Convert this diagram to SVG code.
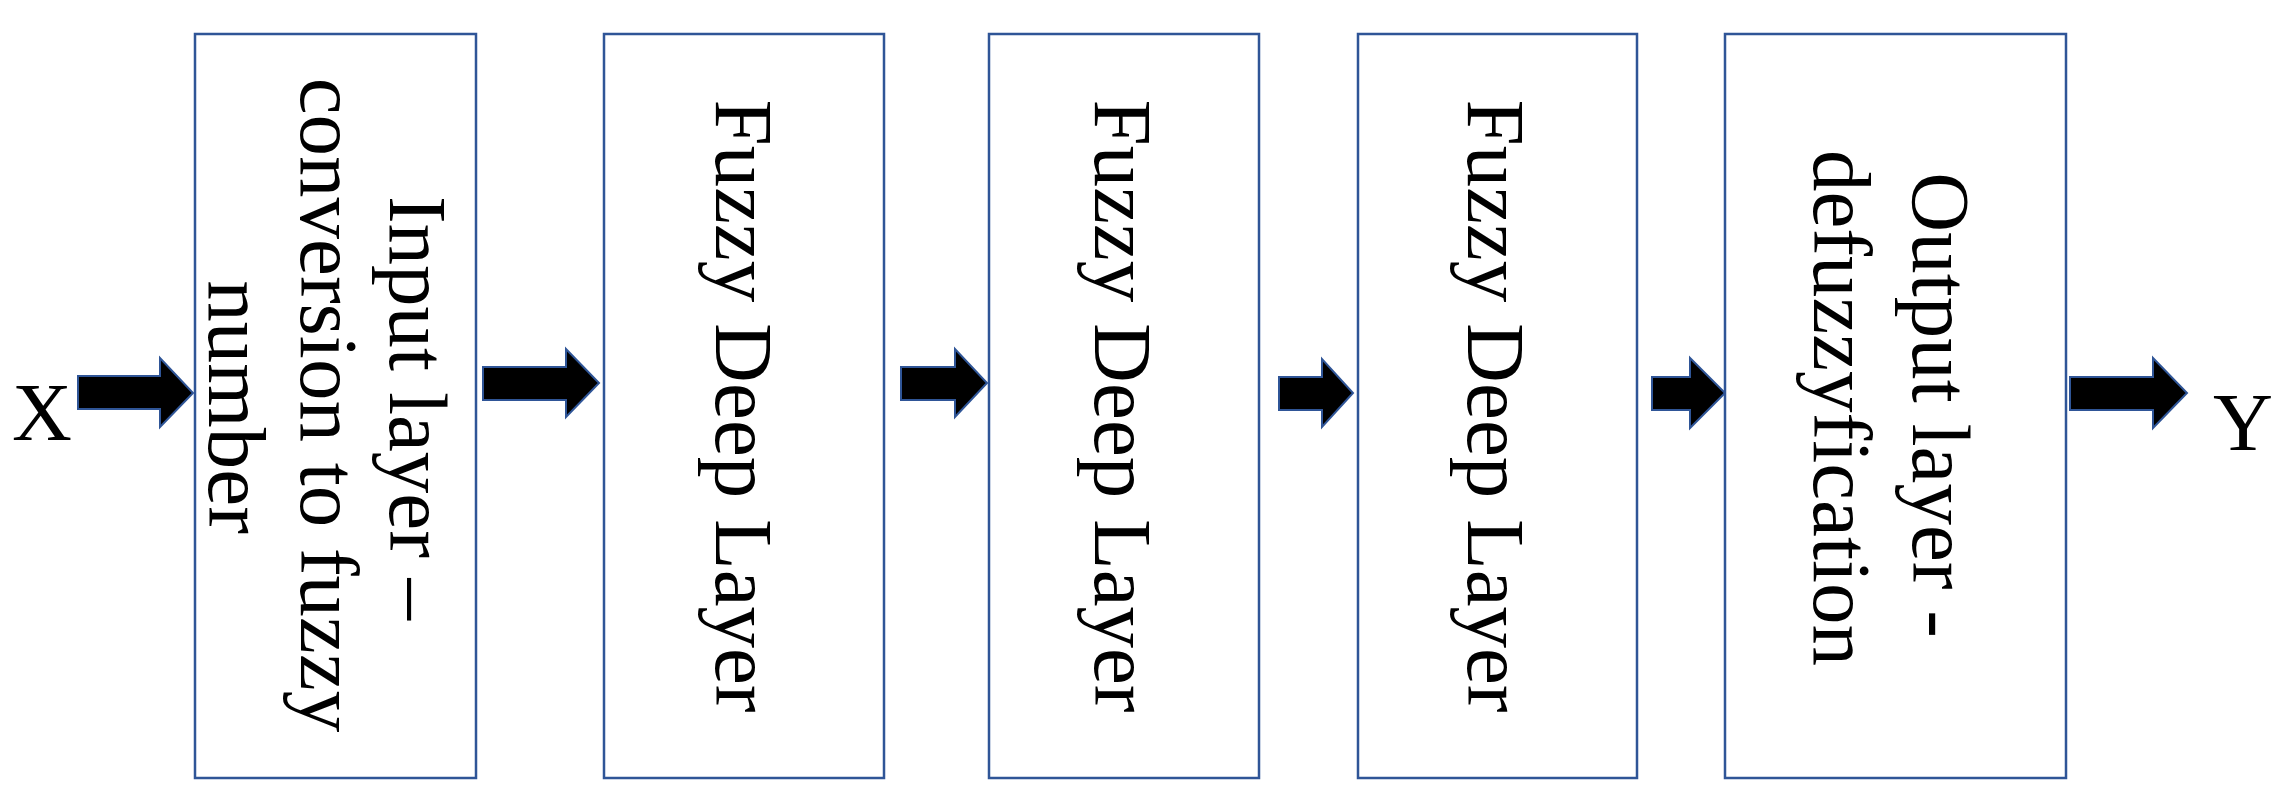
<svg xmlns="http://www.w3.org/2000/svg" width="2280" height="802" viewBox="0 0 2280 802">
<style>
.box{fill:#fff;stroke:#2F5597;stroke-width:2.5}
.arr{fill:#000;stroke:#2F5597;stroke-width:2}
text{font-family:"Liberation Serif","Times New Roman",serif;font-size:83px;fill:#000}
.v{text-anchor:middle}
</style>
<rect width="2280" height="802" fill="#fff"/>
<g id="connectors">
<polygon class="arr" points="78,376 160,376 160,358 193,393 160,427 160,409 78,409"/>
<polygon class="arr" points="483,367 566,367 566,349 599,383 566,417 566,400 483,400"/>
<polygon class="arr" points="901,367 955,367 955,349 987,383 955,417 955,400 901,400"/>
<polygon class="arr" points="1279,377 1322,377 1322,359 1353,393 1322,427 1322,410 1279,410"/>
<polygon class="arr" points="1652,377 1690,377 1690,358 1725,393 1690,428 1690,410 1652,410"/>
<polygon class="arr" points="2070,377 2153,377 2153,358 2187,393 2153,428 2153,410 2070,410"/>
</g>
<g id="x"><text x="12" y="440">X</text></g>
<g id="n1">
<rect class="box" x="195" y="34" width="281" height="744"/>
<text class="v" transform="translate(390,408) rotate(90)">Input layer –</text>
<text class="v" transform="translate(301,405) rotate(90)">conversion to fuzzy</text>
<text class="v" transform="translate(209,407) rotate(90)">number</text>
</g>
<g id="n2">
<rect class="box" x="604" y="34" width="280" height="744"/>
<text class="v" transform="translate(716,406) rotate(90)">Fuzzy Deep Layer</text>
</g>
<g id="n3">
<rect class="box" x="989" y="34" width="270" height="744"/>
<text class="v" transform="translate(1095,406) rotate(90)">Fuzzy Deep Layer</text>
</g>
<g id="n4">
<rect class="box" x="1358" y="34" width="279" height="744"/>
<text class="v" transform="translate(1468,406) rotate(90)">Fuzzy Deep Layer</text>
</g>
<g id="n5">
<rect class="box" x="1725" y="34" width="341" height="744"/>
<text class="v" transform="translate(1913,405) rotate(90)">Output layer -</text>
<text class="v" transform="translate(1814,408) rotate(90)">defuzzyfication</text>
</g>
<g id="y"><text x="2213" y="450">Y</text></g>
</svg>
